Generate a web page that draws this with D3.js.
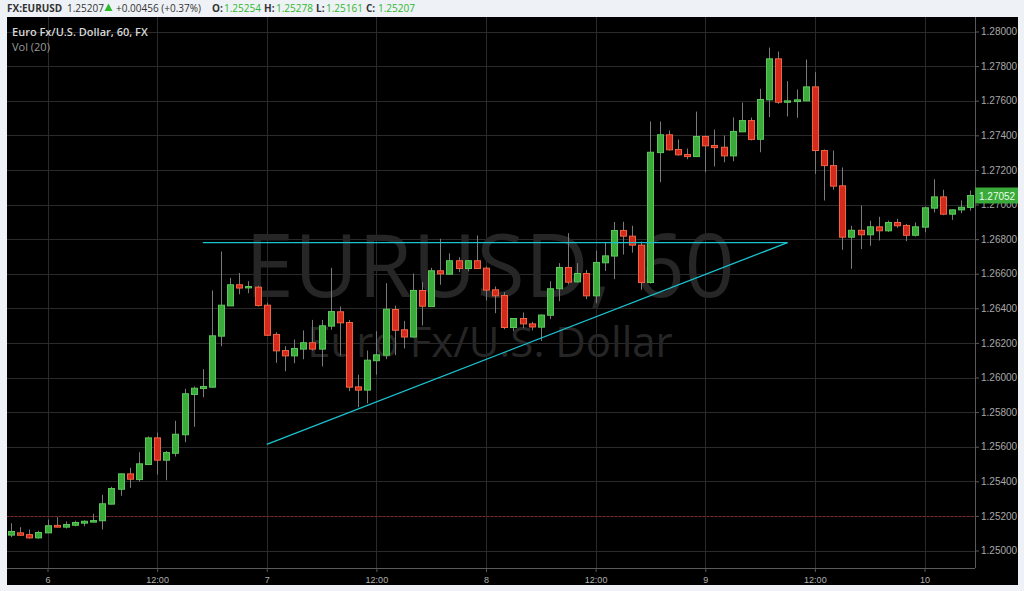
<!DOCTYPE html>
<html><head><meta charset="utf-8">
<script src="https://cdn.jsdelivr.net/npm/d3@7"></script>
<style>body{margin:0;background:#eef1f5;overflow:hidden}svg{display:block}</style>
</head><body><svg id="c" width="1024" height="591"></svg>
<script>
// Hourly candles, starting 2014-10-05 20:00 (UTC)
const open  = [1.25089,1.25102,1.25092,1.25073,1.25102,1.25145,1.25135,1.25146,1.25158,1.25164,
1.25172,1.25268,1.25354,1.25443,1.25410,1.25497,1.25651,1.25522,1.25562,1.25669,
1.25902,1.25936,1.25944,1.26239,1.26414,1.26536,1.26518,1.26522,1.26418,1.26249,
1.26156,1.26125,1.26164,1.26201,1.26164,1.26297,1.26380,1.26318,1.25946,1.25927,
1.26097,1.26129,1.26393,1.26276,1.26234,1.26503,1.26410,1.26617,1.26597,1.26675,
1.26630,1.26675,1.26632,1.26507,1.26474,1.26289,1.26341,1.26310,1.26291,1.26360,
1.26513,1.26636,1.26553,1.26601,1.26472,1.26663,1.26702,1.26850,1.26817,1.26765,
1.26549,1.27300,1.27403,1.27318,1.27289,1.27277,1.27393,1.27341,1.27331,1.27281,
1.27420,1.27485,1.27377,1.27605,1.27842,1.27591,1.27595,1.27599,1.27680,1.27312,
1.27225,1.27108,1.26811,1.26851,1.26825,1.26871,1.26848,1.26896,1.26879,1.26822,
1.26869,1.26979,1.27044,1.26944,1.26969,1.26983];
const high  = [1.25158,1.25135,1.25121,1.25114,1.25179,1.25193,1.25168,1.25172,1.25175,1.25212,
1.25322,1.25368,1.25445,1.25478,1.25568,1.25659,1.25682,1.25576,1.25750,1.25935,
1.25948,1.26048,1.26503,1.26728,1.26576,1.26604,1.26557,1.26530,1.26432,1.26262,
1.26181,1.26220,1.26272,1.26333,1.26333,1.26634,1.26410,1.26333,1.26016,1.26156,
1.26268,1.26545,1.26416,1.26327,1.26601,1.26551,1.26634,1.26802,1.26718,1.26695,
1.26679,1.26821,1.26642,1.26526,1.26493,1.26344,1.26376,1.26322,1.26364,1.26557,
1.26661,1.26834,1.26661,1.26622,1.26734,1.26782,1.26899,1.26900,1.26877,1.26786,
1.27480,1.27480,1.27428,1.27376,1.27324,1.27537,1.27399,1.27433,1.27399,1.27503,
1.27589,1.27503,1.27669,1.27907,1.27884,1.27713,1.27665,1.27838,1.27765,1.27318,
1.27312,1.27214,1.26877,1.26994,1.26906,1.26929,1.26907,1.26917,1.26888,1.26896,
1.26988,1.27146,1.27085,1.26971,1.27023,1.27081];
const low   = [1.25077,1.25084,1.25069,1.25068,1.25101,1.25133,1.25127,1.25140,1.25140,1.25162,
1.25121,1.25266,1.25316,1.25362,1.25399,1.25494,1.25439,1.25406,1.25543,1.25626,
1.25715,1.25886,1.25942,1.26181,1.26413,1.26481,1.26487,1.26410,1.26240,1.26085,
1.26036,1.26083,1.26106,1.26156,1.26064,1.26276,1.26127,1.25921,1.25828,1.25851,
1.26016,1.26106,1.26129,1.26168,1.26231,1.26301,1.26408,1.26536,1.26595,1.26609,
1.26614,1.26627,1.26445,1.26372,1.26279,1.26268,1.26285,1.26272,1.26211,1.26337,
1.26441,1.26538,1.26549,1.26453,1.26429,1.26616,1.26569,1.26711,1.26722,1.26507,
1.26543,1.27129,1.27312,1.27283,1.27262,1.27274,1.27187,1.27220,1.27244,1.27250,
1.27419,1.27370,1.27302,1.27505,1.27582,1.27509,1.27501,1.27598,1.27177,1.27023,
1.27085,1.26738,1.26628,1.26742,1.26761,1.26792,1.26842,1.26865,1.26788,1.26815,
1.26840,1.26954,1.26938,1.26911,1.26950,1.26965];
const close = [1.25110,1.25088,1.25073,1.25104,1.25143,1.25135,1.25150,1.25162,1.25169,1.25173,
1.25270,1.25358,1.25443,1.25412,1.25501,1.25651,1.25522,1.25566,1.25672,1.25906,
1.25938,1.25948,1.26241,1.26418,1.26536,1.26517,1.26526,1.26416,1.26244,1.26154,
1.26125,1.26168,1.26201,1.26164,1.26299,1.26381,1.26316,1.25944,1.25927,1.26100,
1.26131,1.26395,1.26273,1.26234,1.26503,1.26412,1.26617,1.26599,1.26675,1.26630,
1.26675,1.26630,1.26505,1.26472,1.26289,1.26341,1.26310,1.26292,1.26361,1.26513,
1.26636,1.26551,1.26601,1.26472,1.26665,1.26703,1.26850,1.26817,1.26765,1.26549,
1.27302,1.27403,1.27316,1.27287,1.27277,1.27393,1.27339,1.27329,1.27281,1.27422,
1.27485,1.27376,1.27607,1.27842,1.27591,1.27599,1.27605,1.27680,1.27312,1.27225,
1.27106,1.26811,1.26851,1.26825,1.26871,1.26848,1.26896,1.26877,1.26822,1.26871,
1.26981,1.27044,1.26944,1.26969,1.26984,1.27052];
const yTicks = [1.250,1.252,1.254,1.256,1.258,1.260,1.262,1.264,1.266,1.268,1.270,1.272,1.274,1.276,1.278,1.280];
const startTime = Date.UTC(2014,9,5,20);
const lastPrice = 1.27052;
const refLine = 1.25200;
// drawn trend lines: [hour index, price]
const resistance = [[21,1.26780],[85,1.26780]];
const support = [[28,1.25613],[85,1.26780]];

const HOUR = 3600000;
const dates = open.map((d,i)=>new Date(startTime + i*HOUR));
const svg = d3.select('#c');
const L=7, T=17, R=975, B=568;

const x = d3.scaleUtc().domain([new Date(Date.UTC(2014,9,6,0)), new Date(Date.UTC(2014,9,10,0))]).range([47.5,924.5]);
const y = d3.scaleLinear().domain([1.25,1.28]).range([550.5,31.5]);

// plot background
svg.append('rect').attr('x',L).attr('y',T).attr('width',1018-L).attr('height',585-T).attr('fill','#000');

// grid
const xt = d3.utcHour.every(12).range(new Date(Date.UTC(2014,9,6,0)), new Date(Date.UTC(2014,9,10,1)));
const g = svg.append('g');
g.selectAll('line.v').data(xt).join('line').attr('x1',d=>Math.round(x(d))+0.5).attr('x2',d=>Math.round(x(d))+0.5)
 .attr('y1',T).attr('y2',B).attr('stroke','#2a2a2a');
g.selectAll('line.h').data(yTicks).join('line').attr('y1',d=>Math.round(y(d))+0.5).attr('y2',d=>Math.round(y(d))+0.5)
 .attr('x1',L).attr('x2',R).attr('stroke','#2a2a2a');

// watermark
svg.append('text').attr('x',490).attr('y',297).attr('text-anchor','middle').attr('font-family','Open Sans, sans-serif')
 .attr('font-size',88).attr('fill','#262626').text('EURUSD, 60');
svg.append('text').attr('x',490).attr('y',357).attr('text-anchor','middle').attr('font-family','Open Sans, sans-serif')
 .attr('font-size',42).attr('fill','#262626').text('Euro Fx/U.S. Dollar');

// ref dotted line
svg.append('line').attr('x1',L).attr('x2',R).attr('y1',Math.round(y(refLine))+0.5).attr('y2',Math.round(y(refLine))+0.5)
 .attr('stroke','#9a1c1c').attr('stroke-dasharray','2,2');

// candles
const cw = 6;
const cg = svg.append('g');
dates.forEach((d,i)=>{
  const cx = Math.round(x(d));
  const up = close[i] >= open[i];
  cg.append('line').attr('x1',cx+0.5).attr('x2',cx+0.5).attr('y1',y(high[i])).attr('y2',y(low[i])).attr('stroke','#7a7a7a').attr('stroke-width',1);
  const top = y(Math.max(open[i],close[i])), bot = y(Math.min(open[i],close[i]));
  const h = Math.max(1, bot-top);
  cg.append('rect').attr('x',cx-cw/2+0.5).attr('y',top).attr('width',cw).attr('height',h)
   .attr('fill', up ? '#3aab3a' : '#d42a1e').attr('stroke', up ? '#5cc85c' : '#f0643f').attr('stroke-width',1);
});

// trend lines
const lx = i => x(new Date(startTime + i*HOUR));
[resistance, support].forEach(l=>{
  svg.append('line').attr('x1',lx(l[0][0])).attr('y1',y(l[0][1])).attr('x2',lx(l[1][0])).attr('y2',y(l[1][1]))
   .attr('stroke','#19c3d0').attr('stroke-width',1.3);
});

// axes
svg.append('line').attr('x1',R+0.5).attr('x2',R+0.5).attr('y1',T).attr('y2',B).attr('stroke','#5a5a5a');
svg.append('line').attr('x1',L).attr('x2',R).attr('y1',B+0.5).attr('y2',B+0.5).attr('stroke','#5a5a5a');
const ya = d3.axisRight(y).tickValues(yTicks).tickSize(4).tickFormat(d3.format('.5f'));
const yg = svg.append('g').attr('transform',`translate(${R},0)`).call(ya);
yg.select('.domain').remove();
yg.selectAll('line').attr('stroke','#5a5a5a');
yg.selectAll('text').attr('fill','#a8a8a8').attr('font-family','Liberation Sans, Arial, sans-serif').attr('font-size',10).attr('x',6);
const xa = d3.axisBottom(x).tickValues(xt).tickSize(4).tickFormat(d=>d.getUTCHours()===0? String(d.getUTCDate()) : '12:00');
const xg = svg.append('g').attr('transform',`translate(0,${B})`).call(xa);
xg.select('.domain').remove();
xg.selectAll('line').attr('stroke','#5a5a5a');
xg.selectAll('text').attr('fill','#b0b0b0').attr('font-family','Liberation Sans Narrow, Liberation Sans, sans-serif').attr('font-size',9).attr('dy','0.9em');

// last price tag
const ly = y(lastPrice);
svg.append('rect').attr('x',R).attr('y',ly-8).attr('width',43).attr('height',16).attr('fill','#3aab3a');
svg.append('text').attr('x',R+4).attr('y',ly+4).attr('fill','#e8ffe8').attr('font-family','Liberation Sans, Arial, sans-serif').attr('font-size',10).text(d3.format('.5f')(lastPrice));

// header
const hdr = svg.append('text').attr('y',12).attr('font-family','Open Sans, sans-serif').attr('font-size',10).attr('fill','#333');
const parts = [[7,'FX:EURUSD','bold','#333'],[67,'1.25207','normal','#333'],[116,'+0.00456 (+0.37%)','normal','#333'],
 [212,'O:','bold','#333'],[224,'1.25254','normal','#2eb82e'],[264,'H:','bold','#333'],[276,'1.25278','normal','#2eb82e'],
 [316,'L:','bold','#333'],[326,'1.25161','normal','#2eb82e'],[366,'C:','bold','#333'],[378,'1.25207','normal','#2eb82e']];
parts.forEach(p=>hdr.append('tspan').attr('x',p[0]).attr('font-weight',p[2]).attr('fill',p[3]).text(p[1]));
svg.append('path').attr('d','M104.5,11 L108.5,3.5 L112.5,11 Z').attr('fill','#2eb82e');

svg.append('text').attr('x',12).attr('y',36).attr('font-family','Open Sans, sans-serif').attr('font-size',11).attr('font-weight',600).attr('fill','#d8d8d8').text('Euro Fx/U.S. Dollar, 60, FX');
svg.append('text').attr('x',12).attr('y',51).attr('font-family','Open Sans, sans-serif').attr('font-size',11).attr('fill','#9a9a9a').text('Vol (20)');
</script></body></html>
